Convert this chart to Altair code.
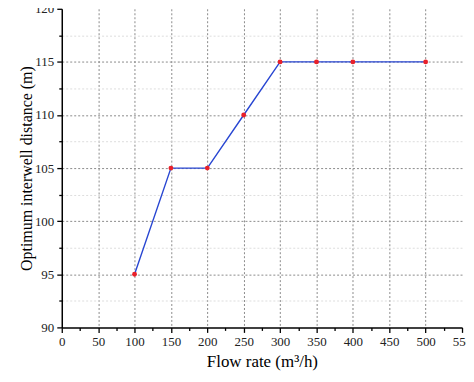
import altair as alt
import pandas as pd

flow_rate = [100, 150, 200, 250, 300, 350, 400, 500]
distance = [95, 105, 105, 110, 115, 115, 115, 115]

x_tick_values = [0, 25, 50, 75, 100, 125, 150, 175, 200, 225, 250, 275, 300,
                 325, 350, 375, 400, 425, 450, 475, 500, 525, 550]
y_tick_values = [90, 92.5, 95, 97.5, 100, 102.5, 105, 107.5, 110, 112.5, 115, 117.5, 120]

df = pd.DataFrame({"flow": flow_rate, "dist": distance})

FONT = "Liberation Serif"

x_axis = alt.Axis(
    values=x_tick_values,
    title="Flow rate (m³/h)",
    labelExpr="datum.value % 50 === 0 ? datum.label : ''",
    tickSize={"condition": {"test": "datum.value % 50 === 0", "value": 5}, "value": 3},
    grid=True,
    gridColor="#8a8a8a",
    gridDash=[2, 2],
    gridWidth=1,
    gridOpacity={"condition": {"test": "datum.value % 50 === 0 && datum.value > 0 && datum.value < 550", "value": 1}, "value": 0},
    titlePadding=5,
    titleFontSize=17,
)

y_axis = alt.Axis(
    values=y_tick_values,
    title="Optimum interwell distance (m)",
    labelExpr="datum.value % 5 === 0 ? datum.label : ''",
    tickSize={"condition": {"test": "datum.value % 5 === 0", "value": 5}, "value": 3},
    grid=True,
    gridColor={"condition": {"test": "datum.value % 5 === 0", "value": "#8a8a8a"}, "value": "#dddddd"},
    gridDash=[2, 2],
    gridWidth=1,
    gridOpacity={"condition": {"test": "datum.value > 90 && datum.value < 120", "value": 1}, "value": 0},
    titlePadding=0,
    titleFontSize=16,
)

x_enc = alt.X("flow:Q", scale=alt.Scale(domain=[0, 550], nice=False, zero=False), axis=x_axis)
y_enc = alt.Y("dist:Q", scale=alt.Scale(domain=[90, 120], nice=False, zero=False), axis=y_axis)

line = alt.Chart(df).mark_line(color="#2846d2", strokeWidth=1.4).encode(x=x_enc, y=y_enc)
points = alt.Chart(df).mark_circle(color="#e8202a", size=24, opacity=1).encode(x=x_enc, y=y_enc)

chart = (line + points).properties(
    width=402,
    height=320,
    background="white",
    autosize=alt.AutoSizeParams(type="none"),
    padding={"left": 54, "top": 0, "right": 4, "bottom": 44},
).configure_view(
    stroke="transparent"
).configure_axis(
    labelFont=FONT,
    labelFontSize=13,
    labelColor="#222",
    labelPadding=3,
    labelFlush=False,
    titleFont=FONT,
    titleFontWeight="normal",
    titleColor="black",
    domainColor="black",
    domainWidth=1.5,
    tickColor="black",
    tickWidth=1.3,
)

chart.save("out.html", embed_options={"renderer": "svg", "actions": False})
